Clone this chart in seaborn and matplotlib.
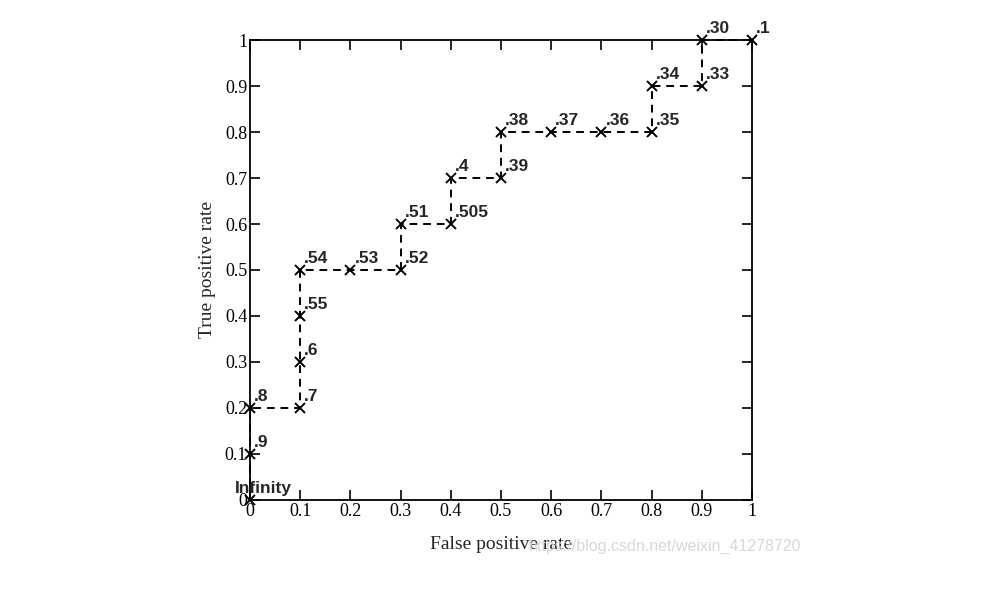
import pandas as pd
import seaborn as sns
import matplotlib.pyplot as plt
from matplotlib.ticker import FormatStrFormatter

fpr = [0, 0, 0, 0.1, 0.1, 0.1, 0.1, 0.2, 0.3, 0.3, 0.4, 0.4, 0.5, 0.5, 0.6, 0.7, 0.8, 0.8, 0.9, 0.9, 1.0]
tpr = [0, 0.1, 0.2, 0.2, 0.3, 0.4, 0.5, 0.5, 0.5, 0.6, 0.6, 0.7, 0.7, 0.8, 0.8, 0.8, 0.8, 0.9, 0.9, 1.0, 1.0]
rotulos = ['Infinity', '.9', '.8', '.7', '.6', '.55', '.54', '.53', '.52', '.51', '.505',
           '.4', '.39', '.38', '.37', '.36', '.35', '.34', '.33', '.30', '.1']
ticks = [0, 0.1, 0.2, 0.3, 0.4, 0.5, 0.6, 0.7, 0.8, 0.9, 1]

df = pd.DataFrame({'fpr': fpr, 'tpr': tpr, 'rotulo': rotulos})

sns.set_style('ticks')
plt.rcParams['font.family'] = ['Liberation Serif', 'DejaVu Serif']

fig = plt.figure(figsize=(9.92, 5.98), dpi=100)
ax = fig.add_axes([0.252, 0.164, 0.506, 0.769])

sns.lineplot(data=df, x='fpr', y='tpr', sort=False, estimator=None, ax=ax,
             color='black', linestyle=(0, (4, 3)), linewidth=1.4, clip_on=False,
             marker='x', markersize=7, markeredgewidth=1.4, markeredgecolor='black')

# rótulos dos limiares
for _, r in df.iterrows():
    if r['rotulo'] == 'Infinity':
        ax.annotate(r['rotulo'], (r['fpr'], r['tpr']), xytext=(-11, 5), textcoords='offset points',
                    fontsize=12.5, fontweight='bold', family='Liberation Sans', clip_on=False)
    else:
        ax.annotate(r['rotulo'], (r['fpr'], r['tpr']), xytext=(3, 5), textcoords='offset points',
                    fontsize=12.5, fontweight='bold', family='Liberation Sans', clip_on=False)

ax.set_xlim(0, 1)
ax.set_ylim(0, 1)
ax.set_xticks(ticks)
ax.set_yticks(ticks)
ax.xaxis.set_major_formatter(FormatStrFormatter('%g'))
ax.yaxis.set_major_formatter(FormatStrFormatter('%g'))
ax.tick_params(direction='in', length=7, width=1.2, labelsize=13, pad=2,
               top=True, right=True, colors='black')
for s in ax.spines.values():
    s.set_linewidth(1.3)
    s.set_color('black')

ax.set_xlabel('False positive rate', fontsize=14, labelpad=12)
ax.set_ylabel('True positive rate', fontsize=14, labelpad=6)

fig.text(0.67, 0.087, 'https://blog.csdn.net/weixin_41278720', fontsize=11.5,
         family='Liberation Sans', color='#d8d8d8', ha='center', va='center')

plt.savefig('out.png', dpi=100)
